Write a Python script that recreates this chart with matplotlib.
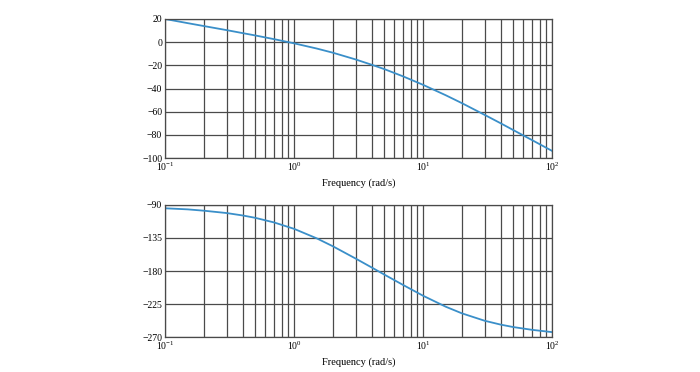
import matplotlib
matplotlib.use('Agg')
import matplotlib.pyplot as plt
from matplotlib.ticker import LogLocator, FixedLocator, NullFormatter

plt.rcParams['font.family'] = ['Liberation Serif', 'DejaVu Serif']
plt.rcParams['mathtext.fontset'] = 'stix'

# frequencies (rad/s)
freq = [0.1, 0.15, 0.2, 0.3, 0.4, 0.5, 0.7, 1, 1.5, 2, 3, 4, 5, 7,
        10, 15, 20, 30, 40, 50, 70, 100]
# magnitude (dB)
mag_db = [20.0, 16.4, 13.9, 10.4, 7.8, 5.8, 2.6, -1.0, -5.5, -9.1, -14.9, -19.5,
          -23.2, -29.5, -36.8, -45.8, -52.6, -62.7, -70.0, -75.8, -84.5, -93.8]
# phase (deg)
phase_deg = [-94.5, -96.0, -97.8, -101.0, -104.3, -107.5, -113.8, -122.5, -135.5,
             -146.3, -163.0, -175.2, -184.8, -199.0, -213.7, -228.7, -237.7,
             -247.8, -253.1, -256.4, -260.2, -263.3]

mag_ticks = [20, 0, -20, -40, -60, -80, -100]
mag_labels = ['20', '0', '\u221220', '\u221240', '\u221260', '\u221280', '\u2212100']
phase_ticks = [-90, -135, -180, -225, -270]
phase_labels = ['\u221290', '\u2212135', '\u2212180', '\u2212225', '\u2212270']

line_color = '#3a8fc9'
grid_color = '#4a4a4a'

fig = plt.figure(figsize=(7, 3.72), dpi=100)
ax1 = fig.add_axes([0.2357, 0.575, 0.553, 0.374])
ax2 = fig.add_axes([0.2357, 0.094, 0.553, 0.355])


def style(ax, ticks, labels, ylim):
    ax.set_xscale('log')
    ax.set_xlim(0.1, 100)
    ax.set_ylim(*ylim)
    ax.xaxis.set_major_locator(LogLocator(base=10, numticks=10))
    ax.xaxis.set_minor_locator(LogLocator(base=10, subs=range(2, 10), numticks=10))
    ax.xaxis.set_minor_formatter(NullFormatter())
    ax.yaxis.set_major_locator(FixedLocator(ticks))
    ax.set_yticklabels(labels)
    ax.grid(True, which='both', axis='x', color=grid_color, linewidth=0.9)
    ax.grid(True, which='major', axis='y', color=grid_color, linewidth=0.9)
    ax.tick_params(which='both', length=0, labelsize=7, pad=2)
    for s in ax.spines.values():
        s.set_color(grid_color)
        s.set_linewidth(0.9)
    ax.set_xlabel('Frequency (rad/s)', fontsize=7.5, labelpad=4)


ax1.plot(freq, mag_db, color=line_color, linewidth=1.3)
style(ax1, mag_ticks, mag_labels, (-100, 20))

ax2.plot(freq, phase_deg, color=line_color, linewidth=1.3)
style(ax2, phase_ticks, phase_labels, (-270, -90))

fig.savefig('out.png', dpi=100)
